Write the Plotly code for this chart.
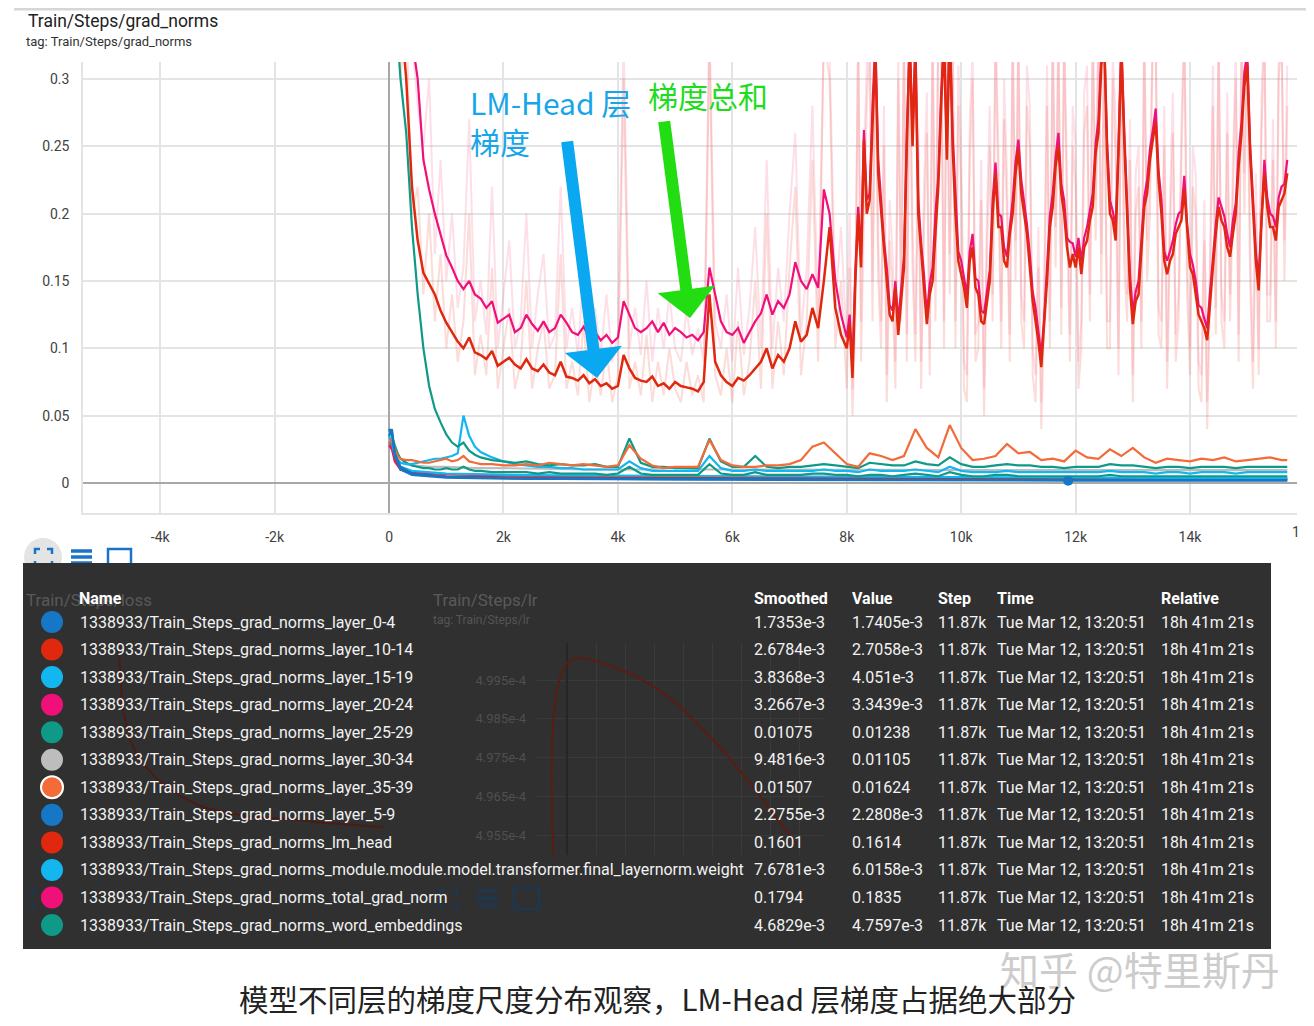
import plotly.graph_objects as go

# the page body has an 8px margin, so the figure is drawn 8px in from the corner
OFF = 8
W, H = 1314 - OFF, 1026 - OFF
FONT = "Roboto"
CJK = "Noto Sans CJK SC"

BLUE = "#1577c6"
RED = "#e0280f"
CYAN = "#14b6ef"
MAGENTA = "#f0107a"
TEAL = "#0e9a87"
GREY = "#bdbdbd"
ORANGE = "#f26b38"

# ---------------- grad norm data ----------------
# every 100 steps up to 8k, every 50 steps after that
STEPS_MAIN = list(range(0, 8000, 100)) + list(range(8000, 15701, 50))

LM_HEAD = [
    0.45, 0.40, 0.35, 0.30, 0.22, 0.18, 0.156, 0.148, 0.14, 0.128,
    0.119, 0.112, 0.105, 0.10, 0.108, 0.097, 0.095, 0.092, 0.098, 0.087,
    0.09, 0.093, 0.088, 0.085, 0.092, 0.085, 0.083, 0.088, 0.082, 0.08,
    0.09, 0.079, 0.078, 0.076, 0.08, 0.074, 0.077, 0.072, 0.074, 0.07,
    0.072, 0.095, 0.085, 0.078, 0.076, 0.075, 0.079, 0.072, 0.074, 0.07,
    0.075, 0.072, 0.071, 0.07, 0.068, 0.075, 0.14, 0.09, 0.08, 0.075,
    0.072, 0.078, 0.076, 0.08, 0.085, 0.09, 0.10, 0.085, 0.095, 0.09,
    0.10, 0.12, 0.105, 0.11, 0.13, 0.115, 0.15, 0.19, 0.13, 0.11,
    # 8000 ->
    0.10, 0.118, 0.078, 0.15, 0.20, 0.16, 0.255, 0.20, 0.21, 0.27,
    0.32, 0.23, 0.20, 0.175, 0.15, 0.125, 0.12, 0.145, 0.11, 0.135,
    0.16, 0.25, 0.33, 0.25, 0.32, 0.20, 0.17, 0.145, 0.118, 0.14,
    0.15, 0.19, 0.22, 0.28, 0.33, 0.24, 0.34, 0.25, 0.20, 0.165,
    0.155, 0.145, 0.13, 0.165, 0.175, 0.145, 0.14, 0.12, 0.118, 0.135,
    0.15, 0.2, 0.23, 0.19, 0.19, 0.165, 0.16, 0.185, 0.20, 0.23,
    0.248, 0.215, 0.20, 0.185, 0.16, 0.135, 0.12, 0.105, 0.086, 0.115,
    0.15, 0.19, 0.205, 0.235, 0.25, 0.215, 0.20, 0.175, 0.16, 0.17,
    0.16, 0.175, 0.155, 0.175, 0.18, 0.195, 0.205, 0.245, 0.26, 0.31,
    0.33, 0.245, 0.20, 0.195, 0.18, 0.245, 0.32, 0.255, 0.20, 0.145,
    0.118, 0.135, 0.14, 0.175, 0.205, 0.215, 0.24, 0.255, 0.268, 0.225,
    0.20, 0.165, 0.155, 0.165, 0.17, 0.185, 0.19, 0.195, 0.218, 0.185,
    0.16, 0.155, 0.14, 0.125, 0.12, 0.115, 0.106, 0.135, 0.16, 0.185,
    0.205, 0.195, 0.19, 0.175, 0.168, 0.185, 0.20, 0.235, 0.26, 0.295,
    0.31, 0.245, 0.20, 0.165, 0.143, 0.195, 0.23, 0.205, 0.19, 0.19,
    0.18, 0.205, 0.21, 0.215, 0.23,
]

TOTAL = [
    0.50, 0.45, 0.40, 0.36, 0.33, 0.30, 0.24, 0.218, 0.20, 0.185,
    0.169, 0.16, 0.15, 0.144, 0.15, 0.14, 0.137, 0.13, 0.135, 0.119,
    0.122, 0.125, 0.112, 0.115, 0.125, 0.118, 0.113, 0.12, 0.112, 0.115,
    0.125, 0.119, 0.112, 0.11, 0.116, 0.108, 0.112, 0.106, 0.11, 0.104,
    0.108, 0.135, 0.125, 0.115, 0.112, 0.115, 0.12, 0.112, 0.119, 0.11,
    0.115, 0.112, 0.108, 0.11, 0.106, 0.112, 0.16, 0.14, 0.12, 0.112,
    0.11, 0.115, 0.104, 0.112, 0.12, 0.126, 0.14, 0.125, 0.135, 0.13,
    0.14, 0.164, 0.15, 0.144, 0.155, 0.145, 0.218, 0.20, 0.15, 0.125,
    # 8000 ->
    0.108, 0.125, 0.088, 0.158, 0.205, 0.17, 0.262, 0.21, 0.215, 0.28,
    0.33, 0.24, 0.21, 0.18, 0.16, 0.132, 0.128, 0.15, 0.12, 0.142,
    0.168, 0.26, 0.33, 0.26, 0.33, 0.21, 0.178, 0.155, 0.125, 0.148,
    0.16, 0.2, 0.228, 0.29, 0.33, 0.25, 0.34, 0.26, 0.21, 0.172,
    0.165, 0.152, 0.14, 0.172, 0.185, 0.152, 0.15, 0.128, 0.126, 0.142,
    0.158, 0.21, 0.238, 0.2, 0.198, 0.175, 0.168, 0.19, 0.21, 0.238,
    0.255, 0.225, 0.208, 0.192, 0.17, 0.142, 0.13, 0.112, 0.095, 0.122,
    0.16, 0.198, 0.215, 0.242, 0.26, 0.222, 0.21, 0.182, 0.179, 0.178,
    0.168, 0.182, 0.165, 0.182, 0.19, 0.202, 0.215, 0.252, 0.27, 0.318,
    0.33, 0.255, 0.21, 0.202, 0.19, 0.252, 0.33, 0.262, 0.21, 0.155,
    0.126, 0.142, 0.15, 0.182, 0.212, 0.225, 0.248, 0.262, 0.278, 0.232,
    0.21, 0.172, 0.165, 0.172, 0.18, 0.192, 0.2, 0.202, 0.228, 0.192,
    0.17, 0.162, 0.15, 0.132, 0.13, 0.122, 0.115, 0.142, 0.17, 0.192,
    0.212, 0.205, 0.198, 0.185, 0.175, 0.195, 0.208, 0.245, 0.268, 0.305,
    0.32, 0.252, 0.21, 0.172, 0.152, 0.202, 0.24, 0.212, 0.2, 0.198,
    0.19, 0.212, 0.22, 0.222, 0.24,
]

LM_HEAD_RAW = [
    0.50, 0.42, 0.30, 0.35, 0.20, 0.22, 0.14, 0.20, 0.12, 0.17,
    0.10, 0.14, 0.09, 0.12, 0.20, 0.08, 0.11, 0.08, 0.16, 0.07,
    0.10, 0.13, 0.07, 0.09, 0.15, 0.07, 0.10, 0.12, 0.07, 0.08,
    0.17, 0.07, 0.09, 0.065, 0.12, 0.06, 0.09, 0.065, 0.10, 0.06,
    0.08, 0.30, 0.07, 0.09, 0.065, 0.11, 0.06, 0.09, 0.065, 0.10,
    0.07, 0.06, 0.09, 0.065, 0.08, 0.06, 0.33, 0.08, 0.065, 0.10,
    0.06, 0.12, 0.065, 0.09, 0.15, 0.07, 0.20, 0.07, 0.12, 0.08,
    0.16, 0.22, 0.08, 0.12, 0.24, 0.09, 0.33, 0.30, 0.10, 0.15,
    # 8000 ->
    0.07, 0.16, 0.05, 0.12, 0.33, 0.09, 0.20, 0.28, 0.33, 0.12,
    0.33, 0.15, 0.10, 0.25, 0.06, 0.18, 0.14, 0.07, 0.30, 0.12,
    0.33, 0.09, 0.33, 0.16, 0.09, 0.24, 0.07, 0.19, 0.26, 0.08,
    0.33, 0.12, 0.33, 0.33, 0.10, 0.33, 0.14, 0.33, 0.10, 0.28,
    0.22, 0.07, 0.06, 0.24, 0.30, 0.09, 0.10, 0.21, 0.05, 0.17,
    0.25, 0.12, 0.33, 0.22, 0.10, 0.27, 0.20, 0.09, 0.33, 0.15,
    0.33, 0.12, 0.10, 0.28, 0.25, 0.08, 0.06, 0.16, 0.04, 0.12,
    0.28, 0.10, 0.33, 0.16, 0.33, 0.11, 0.33, 0.20, 0.09, 0.25,
    0.22, 0.07, 0.10, 0.26, 0.28, 0.12, 0.33, 0.18, 0.33, 0.14,
    0.33, 0.10, 0.10, 0.30, 0.24, 0.08, 0.33, 0.16, 0.12, 0.24,
    0.06, 0.20, 0.22, 0.10, 0.33, 0.15, 0.20, 0.33, 0.33, 0.11,
    0.10, 0.25, 0.07, 0.18, 0.26, 0.09, 0.12, 0.24, 0.33, 0.14,
    0.08, 0.22, 0.20, 0.07, 0.06, 0.18, 0.04, 0.14, 0.28, 0.11,
    0.33, 0.12, 0.10, 0.26, 0.12, 0.21, 0.30, 0.09, 0.33, 0.20,
    0.33, 0.15, 0.07, 0.20, 0.08, 0.26, 0.33, 0.12, 0.12, 0.24,
    0.10, 0.30, 0.33, 0.15, 0.28,
]

TOTAL_RAW = [
    0.55, 0.50, 0.45, 0.38, 0.33, 0.28, 0.25, 0.30, 0.17, 0.24,
    0.15, 0.20, 0.13, 0.16, 0.27, 0.12, 0.15, 0.11, 0.22, 0.10,
    0.14, 0.18, 0.10, 0.12, 0.20, 0.10, 0.14, 0.17, 0.10, 0.11,
    0.22, 0.10, 0.13, 0.095, 0.16, 0.09, 0.13, 0.095, 0.14, 0.09,
    0.11, 0.33, 0.10, 0.13, 0.095, 0.15, 0.09, 0.13, 0.10, 0.14,
    0.10, 0.09, 0.13, 0.095, 0.115, 0.09, 0.34, 0.12, 0.10, 0.14,
    0.09, 0.16, 0.095, 0.13, 0.19, 0.10, 0.24, 0.10, 0.16, 0.12,
    0.20, 0.26, 0.11, 0.16, 0.28, 0.12, 0.34, 0.32, 0.13, 0.19,
    # 8000 ->
    0.10, 0.20, 0.07, 0.15, 0.34, 0.12, 0.24, 0.31, 0.34, 0.15,
    0.34, 0.18, 0.12, 0.28, 0.08, 0.21, 0.17, 0.09, 0.32, 0.15,
    0.34, 0.11, 0.34, 0.19, 0.11, 0.27, 0.09, 0.22, 0.29, 0.10,
    0.34, 0.15, 0.34, 0.34, 0.12, 0.34, 0.17, 0.34, 0.12, 0.31,
    0.25, 0.09, 0.08, 0.27, 0.32, 0.11, 0.12, 0.24, 0.07, 0.20,
    0.28, 0.14, 0.34, 0.25, 0.12, 0.30, 0.23, 0.11, 0.34, 0.18,
    0.34, 0.14, 0.12, 0.31, 0.28, 0.10, 0.08, 0.19, 0.06, 0.15,
    0.31, 0.12, 0.34, 0.19, 0.34, 0.13, 0.34, 0.23, 0.11, 0.28,
    0.25, 0.09, 0.12, 0.29, 0.31, 0.14, 0.34, 0.21, 0.34, 0.17,
    0.34, 0.12, 0.12, 0.32, 0.27, 0.10, 0.34, 0.19, 0.14, 0.27,
    0.08, 0.23, 0.25, 0.12, 0.34, 0.18, 0.23, 0.34, 0.34, 0.13,
    0.12, 0.28, 0.09, 0.21, 0.29, 0.11, 0.14, 0.27, 0.34, 0.17,
    0.10, 0.25, 0.23, 0.09, 0.08, 0.21, 0.06, 0.17, 0.31, 0.13,
    0.34, 0.14, 0.12, 0.29, 0.14, 0.24, 0.32, 0.11, 0.34, 0.23,
    0.34, 0.18, 0.09, 0.23, 0.10, 0.29, 0.34, 0.14, 0.14, 0.27,
    0.12, 0.32, 0.34, 0.18, 0.31,
]

STEPS_FINE = ([0, 50, 100, 150, 200, 300, 400, 500, 600, 700, 800, 900, 1000,
               1100, 1200, 1300, 1400, 1500, 1600, 1800, 2000]
              + list(range(2200, 15601, 200)) + [15700])

LAYER_35_39 = [
    0.03, 0.032, 0.025, 0.02, 0.018, 0.017, 0.017, 0.016, 0.015, 0.015, 0.016,
    0.017, 0.018, 0.016, 0.017, 0.02, 0.016, 0.015, 0.014, 0.014, 0.013,
    0.013, 0.014, 0.013, 0.015, 0.014,
    0.013, 0.014, 0.013, 0.012, 0.013,
    0.028, 0.018, 0.013, 0.011, 0.012,
    0.012, 0.012, 0.032, 0.017, 0.013,
    0.012, 0.012, 0.013, 0.013, 0.014,
    0.017, 0.027, 0.03, 0.022, 0.014,
    0.012, 0.022, 0.02, 0.017, 0.02,
    0.04, 0.026, 0.019, 0.043, 0.026,
    0.017, 0.018, 0.02, 0.029, 0.022,
    0.023, 0.017, 0.018, 0.016, 0.024,
    0.019, 0.018, 0.025, 0.02, 0.026,
    0.019, 0.015, 0.018, 0.017, 0.016,
    0.018, 0.017, 0.019, 0.016, 0.017,
    0.018, 0.019, 0.017, 0.017,
]

LAYER_25_29 = [
    0.45, 0.40, 0.36, 0.33, 0.30, 0.26, 0.19, 0.14, 0.10, 0.072, 0.055,
    0.045, 0.036, 0.03, 0.027, 0.03, 0.024, 0.021, 0.019, 0.017, 0.016,
    0.015, 0.016, 0.014, 0.013, 0.014,
    0.013, 0.013, 0.014, 0.012, 0.012,
    0.033, 0.015, 0.012, 0.012, 0.011,
    0.011, 0.011, 0.033, 0.016, 0.012,
    0.012, 0.02, 0.012, 0.011, 0.012,
    0.012, 0.013, 0.014, 0.013, 0.012,
    0.011, 0.015, 0.014, 0.013, 0.013,
    0.016, 0.014, 0.013, 0.019, 0.014,
    0.012, 0.012, 0.013, 0.014, 0.013,
    0.013, 0.012, 0.012, 0.011, 0.012,
    0.012, 0.012, 0.014, 0.013, 0.013,
    0.012, 0.011, 0.012, 0.012, 0.011,
    0.012, 0.012, 0.012, 0.011, 0.012,
    0.012, 0.012, 0.012, 0.012,
]

WORD_EMB = [
    0.04, 0.035, 0.028, 0.022, 0.018, 0.015, 0.013, 0.012, 0.011, 0.011, 0.01,
    0.01, 0.011, 0.01, 0.01, 0.012, 0.01, 0.009, 0.009, 0.008, 0.008,
    0.008, 0.008, 0.007, 0.008, 0.007,
    0.007, 0.007, 0.007, 0.006, 0.007,
    0.012, 0.007, 0.006, 0.006, 0.006,
    0.006, 0.006, 0.014, 0.007, 0.006,
    0.006, 0.008, 0.006, 0.006, 0.006,
    0.006, 0.007, 0.007, 0.006, 0.006,
    0.005, 0.006, 0.006, 0.005, 0.006,
    0.007, 0.006, 0.005, 0.008, 0.006,
    0.005, 0.005, 0.006, 0.006, 0.005,
    0.005, 0.005, 0.005, 0.005, 0.005,
    0.005, 0.005, 0.006, 0.005, 0.005,
    0.005, 0.005, 0.005, 0.005, 0.005,
    0.005, 0.005, 0.005, 0.005, 0.005,
    0.005, 0.005, 0.005, 0.005,
]

FINAL_LN = [
    0.035, 0.03, 0.022, 0.017, 0.015, 0.014, 0.014, 0.015, 0.016, 0.017, 0.018,
    0.018, 0.019, 0.02, 0.022, 0.05, 0.035, 0.027, 0.023, 0.019, 0.016,
    0.014, 0.013, 0.012, 0.012, 0.011,
    0.011, 0.01, 0.01, 0.01, 0.01,
    0.016, 0.011, 0.009, 0.009, 0.009,
    0.009, 0.009, 0.02, 0.011, 0.009,
    0.009, 0.01, 0.009, 0.009, 0.009,
    0.009, 0.009, 0.01, 0.009, 0.009,
    0.008, 0.01, 0.009, 0.009, 0.009,
    0.01, 0.009, 0.008, 0.012, 0.009,
    0.008, 0.008, 0.008, 0.009, 0.008,
    0.008, 0.008, 0.008, 0.008, 0.008,
    0.008, 0.008, 0.009, 0.008, 0.008,
    0.008, 0.007, 0.008, 0.008, 0.007,
    0.008, 0.008, 0.008, 0.007, 0.008,
    0.008, 0.008, 0.008, 0.008,
]

STEPS_COARSE = [0, 50, 100, 200, 400, 700, 1000, 1500, 2000] + list(range(2500, 15501, 500)) + [15700]

LAYER_0_4 = [
    0.04, 0.038, 0.02, 0.01, 0.006, 0.005, 0.004, 0.0035, 0.003,
    0.003, 0.003, 0.0028, 0.0027, 0.0026, 0.0025, 0.0025, 0.0024, 0.0023,
    0.0023, 0.0022, 0.0022, 0.0021, 0.002, 0.002, 0.0019, 0.0019, 0.0018,
    0.0018, 0.0017, 0.0017, 0.0017, 0.0017, 0.0017, 0.0017, 0.0017, 0.0017,
    0.0017,
]
LAYER_5_9 = [
    0.035, 0.04, 0.022, 0.012, 0.007, 0.0055, 0.0045, 0.004, 0.0035,
    0.0033, 0.0032, 0.003, 0.003, 0.0029, 0.0028, 0.0028, 0.0027, 0.0027,
    0.0026, 0.0026, 0.0025, 0.0025, 0.0024, 0.0024, 0.0024, 0.0023, 0.0023,
    0.0023, 0.0023, 0.0023, 0.0023, 0.0023, 0.0022, 0.0022, 0.0022, 0.0022,
    0.0022,
]
LAYER_10_14 = [
    0.03, 0.028, 0.018, 0.01, 0.007, 0.006, 0.005, 0.0045, 0.004,
    0.004, 0.0039, 0.0038, 0.0037, 0.0036, 0.0035, 0.0034, 0.0034, 0.0033,
    0.0032, 0.0032, 0.0031, 0.003, 0.003, 0.0029, 0.0029, 0.0028, 0.0028,
    0.0027, 0.0027, 0.0027, 0.0027, 0.0027, 0.0027, 0.0027, 0.0027, 0.0027,
    0.0027,
]
LAYER_15_19 = [
    0.03, 0.03, 0.02, 0.012, 0.009, 0.008, 0.007, 0.0065, 0.006,
    0.0058, 0.0056, 0.0055, 0.0053, 0.0052, 0.005, 0.0049, 0.0048, 0.0047,
    0.0046, 0.0045, 0.0044, 0.0043, 0.0042, 0.0041, 0.004, 0.0039, 0.0039,
    0.0038, 0.0038, 0.0038, 0.0038, 0.0038, 0.0038, 0.0038, 0.0038, 0.0038,
    0.0038,
]
LAYER_20_24 = [
    0.028, 0.025, 0.016, 0.01, 0.008, 0.007, 0.0065, 0.006, 0.0055,
    0.0052, 0.005, 0.0048, 0.0047, 0.0046, 0.0045, 0.0044, 0.0043, 0.0042,
    0.0041, 0.004, 0.0039, 0.0038, 0.0037, 0.0036, 0.0035, 0.0034, 0.0034,
    0.0033, 0.0033, 0.0033, 0.0033, 0.0033, 0.0033, 0.0033, 0.0033, 0.0033,
    0.0033,
]
LAYER_30_34 = [
    0.03, 0.028, 0.02, 0.015, 0.013, 0.012, 0.012, 0.011, 0.011,
    0.0105, 0.0105, 0.01, 0.01, 0.01, 0.0115, 0.01, 0.01, 0.0098,
    0.0098, 0.0098, 0.0097, 0.0097, 0.0096, 0.0096, 0.0096, 0.0095, 0.0095,
    0.0095, 0.0095, 0.0095, 0.0095, 0.0095, 0.0095, 0.0095, 0.0095, 0.0095,
    0.0095,
]

HOVER_STEP = 11870
HOVER_VALUE = 0.0017

X_TICKS = [-4000, -2000, 0, 2000, 4000, 6000, 8000, 10000, 12000, 14000]
X_TICK_TEXT = ["-4k", "-2k", "0", "2k", "4k", "6k", "8k", "10k", "12k", "14k"]
Y_TICKS = [0, 0.05, 0.1, 0.15, 0.2, 0.25, 0.3]
Y_TICK_TEXT = ["0", "0.05", "0.1", "0.15", "0.2", "0.25", "0.3"]

# ---------------- background cards seen through the tooltip ----------------
LR_STEPS = [0, 60, 2370, 4950, 7530, 9590, 11650, 11870]
LR_VALUES = [4.90e-4, 4.9996e-4, 4.99835e-4, 4.99165e-4, 4.97954e-4, 4.96742e-4, 4.95376e-4, 4.95247e-4]
LR_TICKS = [4.955e-4, 4.965e-4, 4.975e-4, 4.985e-4, 4.995e-4]
LR_TICK_TEXT = ["4.955e-4", "4.965e-4", "4.975e-4", "4.985e-4", "4.995e-4"]

LOSS_STEPS = [0, 150, 500, 1000, 1750, 2800, 3800, 5000, 5850, 7000, 7870, 9000, 10000, 11000, 11870]
LOSS_VALUES = [3.2, 2.85, 2.62, 2.48, 2.36, 2.25, 2.18, 2.14, 2.12, 2.11, 2.10, 2.08, 2.07, 2.06, 2.05]

# ---------------- tooltip table ----------------
RUN_NAMES = [
    "1338933/Train_Steps_grad_norms_layer_0-4",
    "1338933/Train_Steps_grad_norms_layer_10-14",
    "1338933/Train_Steps_grad_norms_layer_15-19",
    "1338933/Train_Steps_grad_norms_layer_20-24",
    "1338933/Train_Steps_grad_norms_layer_25-29",
    "1338933/Train_Steps_grad_norms_layer_30-34",
    "1338933/Train_Steps_grad_norms_layer_35-39",
    "1338933/Train_Steps_grad_norms_layer_5-9",
    "1338933/Train_Steps_grad_norms_lm_head",
    "1338933/Train_Steps_grad_norms_module.module.model.transformer.final_layernorm.weight",
    "1338933/Train_Steps_grad_norms_total_grad_norm",
    "1338933/Train_Steps_grad_norms_word_embeddings",
]
RUN_COLORS = [BLUE, RED, CYAN, MAGENTA, TEAL, GREY, ORANGE, BLUE, RED, CYAN, MAGENTA, TEAL]
SMOOTHED = ["1.7353e-3", "2.6784e-3", "3.8368e-3", "3.2667e-3", "0.01075", "9.4816e-3",
            "0.01507", "2.2755e-3", "0.1601", "7.6781e-3", "0.1794", "4.6829e-3"]
VALUES = ["1.7405e-3", "2.7058e-3", "4.051e-3", "3.3439e-3", "0.01238", "0.01105",
          "0.01624", "2.2808e-3", "0.1614", "6.0158e-3", "0.1835", "4.7597e-3"]
STEP_TXT = "11.87k"
TIME_TXT = "Tue Mar 12, 13:20:51"
RELATIVE_TXT = "18h 41m 21s"
HEADERS = ["Smoothed", "Value", "Step", "Time", "Relative"]


def px_x(p):
    return (p - OFF) / W


def px_y(p):
    return 1 - (p - OFF) / H


def label(txt, x, y, size, color, anchor="left", family=FONT):
    return dict(text=txt, x=px_x(x), y=px_y(y), xref="paper", yref="paper",
                xanchor=anchor, yanchor="middle", showarrow=False,
                font=dict(family=family, size=size, color=color))


fig = go.Figure()

# pale raw curves behind the smoothed ones
fig.add_trace(go.Scatter(x=STEPS_MAIN, y=TOTAL_RAW, mode="lines",
                         line=dict(color="rgba(245,110,150,0.22)", width=2)))
fig.add_trace(go.Scatter(x=STEPS_MAIN, y=LM_HEAD_RAW, mode="lines",
                         line=dict(color="rgba(238,120,105,0.26)", width=2)))

small_series = [
    (STEPS_COARSE, LAYER_30_34, GREY),
    (STEPS_COARSE, LAYER_20_24, MAGENTA),
    (STEPS_COARSE, LAYER_10_14, RED),
    (STEPS_COARSE, LAYER_15_19, CYAN),
    (STEPS_FINE, WORD_EMB, TEAL),
    (STEPS_FINE, FINAL_LN, CYAN),
    (STEPS_FINE, LAYER_25_29, TEAL),
    (STEPS_FINE, LAYER_35_39, ORANGE),
    (STEPS_COARSE, LAYER_5_9, BLUE),
    (STEPS_COARSE, LAYER_0_4, BLUE),
]
for steps, vals, col in small_series:
    fig.add_trace(go.Scatter(x=steps, y=vals, mode="lines", line=dict(color=col, width=2.2)))

fig.add_trace(go.Scatter(x=STEPS_MAIN, y=TOTAL, mode="lines", line=dict(color=MAGENTA, width=2.2)))
fig.add_trace(go.Scatter(x=STEPS_MAIN, y=LM_HEAD, mode="lines", line=dict(color=RED, width=2.5)))
fig.add_trace(go.Scatter(x=[HOVER_STEP], y=[HOVER_VALUE], mode="markers",
                         marker=dict(color=BLUE, size=10)))

# faint cards behind the tooltip
fig.add_trace(go.Scatter(x=LR_STEPS, y=LR_VALUES, mode="lines", xaxis="x2", yaxis="y2",
                         line=dict(color="#5a1d12", width=2, shape="spline")))
fig.add_trace(go.Scatter(x=LOSS_STEPS, y=LOSS_VALUES, mode="lines", xaxis="x3", yaxis="y3",
                         line=dict(color="#4a1c14", width=2)))

BRACKET_DASH = "5px,7px,10px,7px,10px,7px,10px,7px,5px"
shapes = [
    dict(type="line", xref="paper", yref="paper", x0=px_x(14), x1=1, y0=px_y(9), y1=px_y(9),
         line=dict(color="#d6d6d6", width=3)),
    # toolbar icons
    dict(type="circle", xref="paper", yref="paper", xsizemode="pixel", ysizemode="pixel",
         xanchor=px_x(43), yanchor=px_y(557), x0=-19, x1=19, y0=-19, y1=19,
         fillcolor="#e4e4e4", line=dict(width=0), layer="below"),
    dict(type="rect", xref="paper", yref="paper", x0=px_x(35), x1=px_x(52), y0=px_y(566), y1=px_y(549),
         line=dict(color="#1a73c8", width=2.5, dash=BRACKET_DASH), layer="below"),
    dict(type="rect", xref="paper", yref="paper", x0=px_x(108), x1=px_x(131), y0=px_y(567), y1=px_y(549),
         line=dict(color="#1a73c8", width=2.5), layer="below"),
]
for yy in (551, 557, 563):
    shapes.append(dict(type="line", xref="paper", yref="paper", x0=px_x(71), x1=px_x(92),
                       y0=px_y(yy), y1=px_y(yy), line=dict(color="#1a73c8", width=3.5), layer="below"))

# dark tooltip panel
shapes.append(dict(type="rect", xref="paper", yref="paper", x0=px_x(23), x1=px_x(1271),
                   y0=px_y(949), y1=px_y(563), fillcolor="#303030", line=dict(width=0), layer="below"))

# faint icons of the page underneath
for cx in (40, 448):
    shapes.append(dict(type="rect", xref="paper", yref="paper", x0=px_x(cx - 8), x1=px_x(cx + 9),
                       y0=px_y(907), y1=px_y(890),
                       line=dict(color="#1e3750", width=2.5, dash=BRACKET_DASH), layer="below"))
for yy in (891, 898, 905):
    shapes.append(dict(type="line", xref="paper", yref="paper", x0=px_x(477), x1=px_x(498),
                       y0=px_y(yy), y1=px_y(yy), line=dict(color="#1e3750", width=3.5), layer="below"))
shapes.append(dict(type="rect", xref="paper", yref="paper", x0=px_x(514), x1=px_x(539),
                   y0=px_y(909), y1=px_y(888), line=dict(color="#1e3750", width=2.5), layer="below"))

# legend dots of the tooltip
for i, col in enumerate(RUN_COLORS):
    ring = dict(color="white", width=2) if col == ORANGE else dict(width=0)
    shapes.append(dict(type="circle", xref="paper", yref="paper", xsizemode="pixel", ysizemode="pixel",
                       xanchor=px_x(52), yanchor=px_y(622 + i * 27.55), x0=-11, x1=11, y0=-11, y1=11,
                       fillcolor=col, line=ring))

annotations = [
    label("Train/Steps/grad_norms", 26, 21, 17.5, "#212121"),
    label("tag: Train/Steps/grad_norms", 24, 41, 13, "#333333"),
    label("1", 1296, 532, 14, "#424242", anchor="center"),
    # faint text of the cards behind
    label("Train/Steps/loss", 24, 600, 17, "#595959"),
    label("Train/Steps/lr", 431, 600, 17, "#5a5a5a"),
    label("tag: Train/Steps/lr", 431, 620, 12, "#555555"),
    # chart call-outs
    dict(text="LM-Head 层<br>梯度", x=px_x(468), y=px_y(78), xref="paper", yref="paper",
         xanchor="left", yanchor="top", align="left", showarrow=False,
         font=dict(family=CJK, size=30, color="#19a6e8")),
    label("梯度总和", 646, 95, 30, "#1edc1e", family=CJK),
    dict(text="", x=px_x(597), y=px_y(378), xref="paper", yref="paper", showarrow=True,
         ax=-30, ay=-238, arrowhead=1, arrowsize=0.8, arrowwidth=12, arrowcolor="#0aa8f0"),
    dict(text="", x=px_x(690), y=px_y(318), xref="paper", yref="paper", showarrow=True,
         ax=-26, ay=-198, arrowhead=1, arrowsize=0.8, arrowwidth=12, arrowcolor="#22dd11"),
    # tooltip header
    label("<b>Name</b>", 77, 598, 16, "#ffffff"),
]
head_x = [752, 850, 936, 995, 1159]
for hx, ht in zip(head_x, HEADERS):
    annotations.append(label("<b>" + ht + "</b>", hx, 598, 16, "#ffffff"))

for i, name in enumerate(RUN_NAMES):
    ry = 622 + i * 27.55
    row = [name, SMOOTHED[i], VALUES[i], STEP_TXT, TIME_TXT, RELATIVE_TXT]
    for cx, txt in zip([78] + head_x, row):
        annotations.append(label(txt, cx, ry, 16, "#f2f2f2"))

annotations.append(label("知乎 @特里斯丹", 998, 968, 39, "#cccccc", family=CJK))
annotations.append(label("模型不同层的梯度尺度分布观察，LM-Head 层梯度占据绝大部分", 657, 998, 29.5, "#222222",
                         anchor="center", family=CJK))

fig.update_layout(
    width=W, height=H,
    margin=dict(l=0, r=0, t=0, b=0),
    paper_bgcolor="white",
    plot_bgcolor="rgba(0,0,0,0)",
    showlegend=False,
    font=dict(family=FONT),
    shapes=shapes,
    annotations=annotations,
    xaxis=dict(domain=[px_x(83), px_x(1297)], range=[-5350, 15870],
               tickvals=X_TICKS, ticktext=X_TICK_TEXT, ticks="", ticklabelstandoff=10,
               tickfont=dict(size=14, color="#424242"),
               showgrid=True, gridcolor="#e4e4e4", gridwidth=1.5,
               zeroline=True, zerolinecolor="#a8a8a8", zerolinewidth=2,
               showline=True, linecolor="#e4e4e4", linewidth=1.5),
    yaxis=dict(domain=[px_y(513), px_y(62)], range=[-0.0223, 0.3126],
               tickvals=Y_TICKS, ticktext=Y_TICK_TEXT, ticks="", ticklabelstandoff=9,
               tickfont=dict(size=14, color="#424242"),
               showgrid=True, gridcolor="#e4e4e4", gridwidth=1.5,
               zeroline=True, zerolinecolor="#a8a8a8", zerolinewidth=2,
               showline=True, linecolor="#e4e4e4", linewidth=1.5),
    xaxis2=dict(domain=[px_x(537), px_x(823)], range=[-1546, 13196], anchor="y2",
                showticklabels=False, ticks="", dtick=1500, tick0=0,
                showgrid=True, gridcolor="#3a3a3a",
                zeroline=True, zerolinecolor="#262626", zerolinewidth=2),
    yaxis2=dict(domain=[px_y(855), px_y(643)], range=[4.9499e-4, 5.00454e-4], anchor="x2",
                tickvals=LR_TICKS, ticktext=LR_TICK_TEXT, ticks="", ticklabelstandoff=10,
                tickfont=dict(size=13, color="#4f4f4f"),
                showgrid=True, gridcolor="#3a3a3a", zeroline=False),
    xaxis3=dict(domain=[px_x(100), px_x(400)], range=[-854, 12635], anchor="y3",
                visible=False),
    yaxis3=dict(domain=[px_y(850), px_y(640)], range=[1.898, 3.286], anchor="x3",
                visible=False),
)

fig.write_html("out.html")
